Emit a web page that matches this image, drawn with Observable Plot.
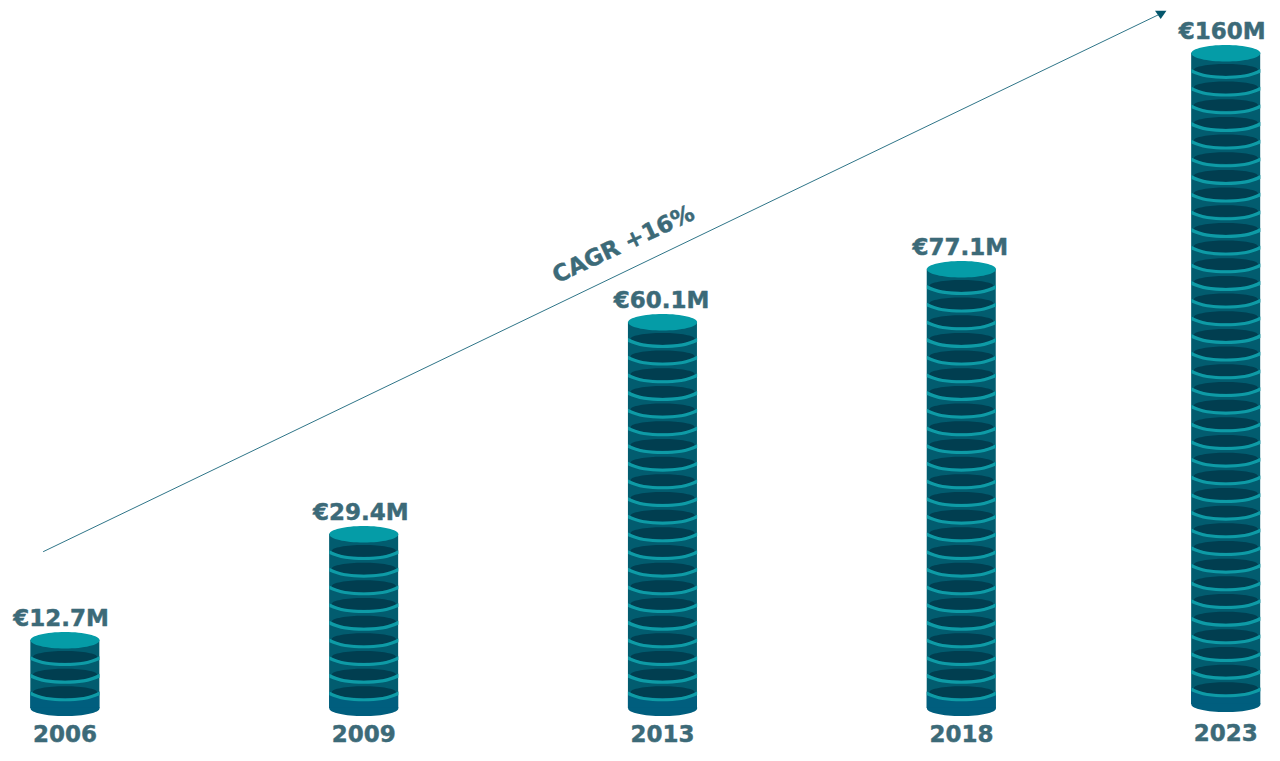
<!DOCTYPE html>
<html>
<head>
<meta charset="utf-8">
<style>html,body{margin:0;padding:0;background:#fff}svg{display:block}</style>
<script src="https://cdn.jsdelivr.net/npm/d3@7"></script>
<script src="https://cdn.jsdelivr.net/npm/@observablehq/plot@0.6"></script>
</head>
<body>
<div id="chart"></div>
<script>
const years = ["2006", "2009", "2013", "2018", "2023"];
const valueLabels = ["€12.7M", "€29.4M", "€60.1M", "€77.1M", "€160M"];
const slots = [0, 1, 2, 3, 3.885];
const rimCounts = [3, 9, 21, 24, 36];
const lifts = [0, 0, 0, 0, 0.226];
const labelNudge = [-0.0134, -0.01, -0.0033, -0.0033, -0.0125];
const trendX = [-0.072, 3.667];
const trendY = [7.96, 38.4];

const halfWidth = 0.1155;
const columns = years.map((year, i) => ({
  year, slot: slots[i], label: valueLabels[i], labelSlot: slots[i] + labelNudge[i],
  base: lifts[i] - 0.924, firstRim: lifts[i],
  top: lifts[i] + rimCounts[i] - 1 + 0.94
}));
const rims = columns.flatMap((c, i) =>
  d3.range(rimCounts[i]).map(k => ({slot: c.slot, y: c.firstRim + k})));

// Symbols scale with r, which equals the cylinder's half width in pixels.
const unit = size => Math.sqrt(size / Math.PI);
const K = 0.5523;
function ellipse(ctx, rx, ry, cy = 0) {
  ctx.moveTo(-rx, cy);
  ctx.bezierCurveTo(-rx, cy - K * ry, -K * rx, cy - ry, 0, cy - ry);
  ctx.bezierCurveTo(K * rx, cy - ry, rx, cy - K * ry, rx, cy);
  ctx.bezierCurveTo(rx, cy + K * ry, K * rx, cy + ry, 0, cy + ry);
  ctx.bezierCurveTo(-K * rx, cy + ry, -rx, cy + K * ry, -rx, cy);
  ctx.closePath();
}
const lid = {draw(ctx, s) { const r = unit(s); ellipse(ctx, r, r * 0.24); }};
const well = {draw(ctx, s) { const r = unit(s); ellipse(ctx, r * 0.93, r * 0.17); }};
const foot = {draw(ctx, s) {
  const r = unit(s), ry = r * 0.22, y0 = -r * 0.04;
  ctx.moveTo(-r, y0);
  ctx.lineTo(-r, 0);
  ctx.bezierCurveTo(-r, K * ry, -K * r, ry, 0, ry);
  ctx.bezierCurveTo(K * r, ry, r, K * ry, r, 0);
  ctx.lineTo(r, y0);
  ctx.closePath();
}};
const rimBand = {draw(ctx, s) {
  const r = unit(s), y0 = r * 0.09, y1 = -r * 0.02, low = r * 0.265, high = r * 0.18;
  ctx.moveTo(-r, y0);
  ctx.bezierCurveTo(-r * 0.72, y0 + (low - y0) * 0.75, -r * 0.4, low, 0, low);
  ctx.bezierCurveTo(r * 0.4, low, r * 0.72, y0 + (low - y0) * 0.75, r, y0);
  ctx.lineTo(r, y1);
  ctx.bezierCurveTo(r * 0.72, y1 + (high - y1) * 0.75, r * 0.4, high, 0, high);
  ctx.bezierCurveTo(-r * 0.4, high, -r * 0.72, y1 + (high - y1) * 0.75, -r, y1);
  ctx.closePath();
}};
const head = {draw(ctx, s) {
  const r = unit(s);
  ctx.moveTo(-r * 0.95, -r * 0.5);
  ctx.lineTo(r * 0.95, -r * 0.5);
  ctx.lineTo(0, r * 0.9);
  ctx.closePath();
}};

const textColor = "#3c6a78";
const font = {fontFamily: "'DejaVu Sans'", fontWeight: "bold", fontSize: 23, fill: textColor, stroke: textColor, strokeWidth: 0.45};

const plot = Plot.plot({
  width: 1280,
  height: 761,
  margin: 0,
  x: {type: "linear", domain: [-0.2159, 4.0679], axis: null},
  y: {type: "linear", domain: [-3.922, 39.146], axis: null},
  marks: [
    Plot.rect(columns, {x1: d => d.slot - halfWidth, x2: d => d.slot + halfWidth, y1: "base", y2: "top", fill: "#025c6f", dx: 0.33}),
    Plot.rect(columns, {x1: d => d.slot - halfWidth, x2: d => d.slot + halfWidth, y1: "base", y2: "firstRim", fill: "#005e7e", dx: 0.33}),
    Plot.dot(columns, {x: "slot", y: "base", r: 34.5, symbol: foot, fill: "#005e7e", stroke: "none"}),
    Plot.dot(rims, {x: "slot", y: "y", r: 34.5, symbol: well, fill: "#013e50", stroke: "none"}),
    Plot.dot(rims, {x: "slot", y: "y", r: 34.5, symbol: rimBand, fill: "#0e9ba6", stroke: "none"}),
    Plot.dot(columns, {x: "slot", y: "top", r: 34.5, symbol: lid, fill: "#059ca7", stroke: "none"}),
    Plot.line(trendX.map((x, i) => ({x, y: trendY[i]})), {x: "x", y: "y", stroke: "#2f7588", strokeWidth: 1}),
    Plot.dot([{x: trendX[1], y: trendY[1]}], {x: "x", y: "y", r: 6, symbol: head, fill: "#04566c", stroke: "none"}),
    Plot.text(columns, {x: "labelSlot", y: "top", text: "label", dy: -21.5, ...font}),
    Plot.text(columns, {x: "slot", y: d => d.year === "2023" ? -2.34 : -2.394, text: "year", ...font}),
    Plot.text(["CAGR +16%"], {x: [1.869], y: [25.35], text: d => d, rotate: -25, ...font})
  ]
});
document.getElementById("chart").appendChild(plot);
</script>
</body>
</html>
